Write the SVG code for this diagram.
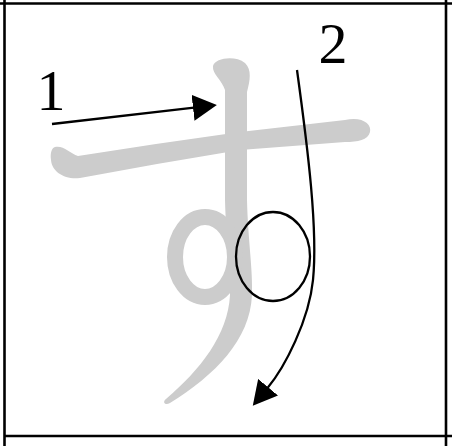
<svg xmlns="http://www.w3.org/2000/svg" width="452" height="446" viewBox="0 0 452 446">
<style>
.frame{stroke:#000;stroke-width:2.6;fill:none}
.glyph{fill:#cccccc;stroke:none}
.ink{stroke:#000;stroke-width:2.3;fill:none}
.num{font-family:"Liberation Serif","Times New Roman",serif;font-size:58px;fill:#000;text-anchor:middle}
</style>
<defs>
<marker id="ah" markerWidth="26" markerHeight="26" refX="1" refY="13" orient="auto" markerUnits="userSpaceOnUse">
<path d="M0,0 L24,13 L0,26 Z" fill="#000"/>
</marker>
</defs>
<g id="frame">
<line class="frame" x1="0" y1="3.5" x2="452" y2="3.5"/>
<line class="frame" x1="4" y1="436" x2="452" y2="436"/>
<line class="frame" x1="4.5" y1="0" x2="4.5" y2="446"/>
<line class="frame" x1="446" y1="0" x2="446" y2="446"/>
</g>
<g id="character">
<path class="glyph" d="M55,147 C63,145 70,153 78,156 Q160,143 240,132 L345,120 C362,116 372,124 370,132 C368,140 358,142 345,142 L240,150 Q160,163 80,178 C65,180 52,172 51,160 C50,152 52,148 55,147 Z"/>
<path class="glyph" d="M213,66 C215,58 235,55 245,63 C252,70 250,80 247,92 L247,200 C248,240 253,270 252,295 C250,340 215,375 170,403 C165,406 162,402 166,399 C200,370 228,335 230,295 C231,270 226,240 225,200 L225,90 C222,80 212,74 213,66 Z"/>
<ellipse cx="205" cy="257" rx="30" ry="40" fill="none" stroke="#cccccc" stroke-width="16"/>
</g>
<g id="connectors">
<path class="ink" d="M52,124 L194,107.6" marker-end="url(#ah)"/>
<path class="ink" d="M297,70 C308,150 318,230 313,280 C309,320 285,367 267.5,388" marker-end="url(#ah)"/>
</g>
<g id="loop">
<ellipse class="ink" cx="273" cy="256.5" rx="37" ry="44.5"/>
</g>
<g id="label1"><text class="num" x="51" y="110">1</text></g>
<g id="label2"><text class="num" x="333" y="63">2</text></g>
</svg>
